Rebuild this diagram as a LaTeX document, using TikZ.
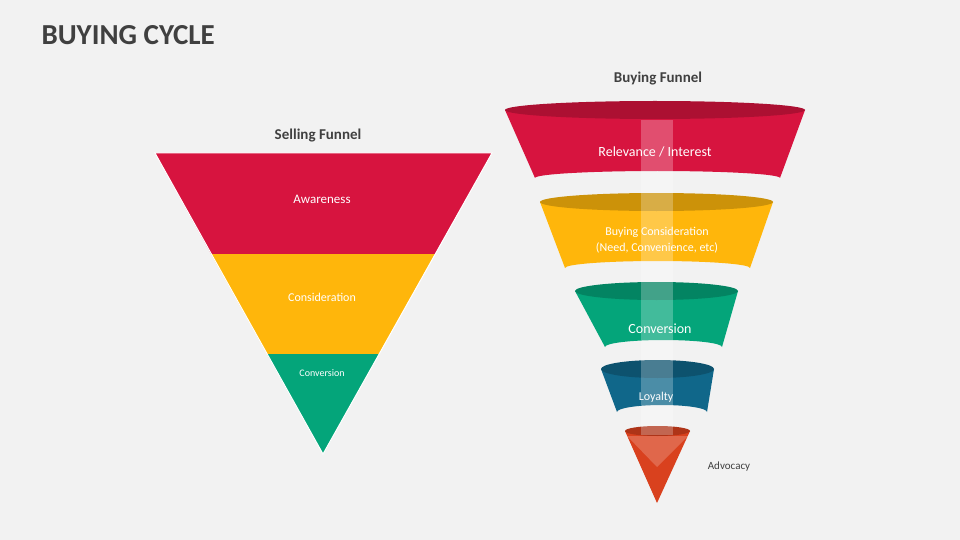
\documentclass[tikz,border=0pt]{standalone}
\usepackage{fontspec}
\setmainfont{Carlito}
\begin{document}
\begin{tikzpicture}[x=1pt,y=-1pt,
  lbl/.style={text=white,font=\fontsize{13}{15}\selectfont,align=center},
  slbl/.style={text=white,font=\fontsize{11}{13}\selectfont,align=center},
  hdr/.style={text=black!75,font=\bfseries\fontsize{15}{17}\selectfont}]
\definecolor{cred}{HTML}{D7143F}\definecolor{cyel}{HTML}{FFB60B}
\definecolor{cgrn}{HTML}{04A57A}\definecolor{cblu}{HTML}{10678A}
\definecolor{corg}{HTML}{D9411E}\definecolor{bg}{HTML}{F2F2F2}
\fill[bg] (0,0) rectangle (960,540);
\useasboundingbox (0,0) rectangle (960,540);
\node[anchor=west,text=black!75,font=\bfseries\fontsize{29}{32}\selectfont] (title) at (38,35) {BUYING CYCLE};
% left funnel
\fill[cred] (155,153) -- (492,153) -- (435,254) -- (211,254) -- cycle;
\fill[cyel] (211,254) -- (435,254) -- (379,354) -- (267,354) -- cycle;
\fill[cgrn] (267,354) -- (379,354) -- (323,454) -- cycle;
\draw[white,line width=1pt] (155,153) -- (492,153) -- (323,454) -- cycle;
\node[hdr] (sf) at (318,136) {Selling Funnel};
\node[lbl] (aw) at (322,199) {Awareness};
\node[slbl,font=\fontsize{12}{14}\selectfont] (co) at (322,297) {Consideration};
\node[slbl,font=\fontsize{10}{12}\selectfont] (cv) at (322,373) {Conversion};
% right funnel
\newcommand\seg[7]{% color, ytop, xl, xr, ybot, bxl, bxr
  \fill[#1] (#3,#2) -- (#6,#5) arc[start angle=180,end angle=360,x radius={(#7-#6)/2},y radius=7] -- (#4,#2) -- cycle;
  \fill[#1!80!black] ({(#3+#4)/2},#2) ellipse[x radius={(#4-#3)/2},y radius=9];}
\seg{cred}{110}{505}{805}{178}{535}{780}
\seg{cyel}{202}{540}{773}{268}{565}{750}
\seg{cgrn}{291}{575}{738}{347}{605}{722}
\seg{cblu}{369}{601}{714}{412}{617}{707}
\fill[corg] (625,431) -- (657,503) -- (690,431) -- cycle;
\fill[corg!80!black] (657.5,431) ellipse[x radius=32.5,y radius=5];
\fill[white,opacity=0.2] (627,436) -- (657,467) -- (688,436) -- cycle;
\fill[white,opacity=0.25] (641,120) rectangle (673,435);
\node[hdr] (bf) at (658,79) {Buying Funnel};
\node[lbl,font=\fontsize{14}{16}\selectfont] (r1) at (655,152) {Relevance / Interest};
\node[slbl,font=\fontsize{12}{16}\selectfont] (r2) at (657,240) {Buying Consideration\\(Need, Convenience, etc)};
\node[lbl,font=\fontsize{14}{16}\selectfont] (r3) at (660,329) {Conversion};
\node[slbl,font=\fontsize{12}{14}\selectfont] (r4) at (656,397) {Loyalty};
\node[text=black!75,font=\fontsize{11}{13}\selectfont] (r5) at (729,467) {Advocacy};
\end{tikzpicture}
\end{document}
